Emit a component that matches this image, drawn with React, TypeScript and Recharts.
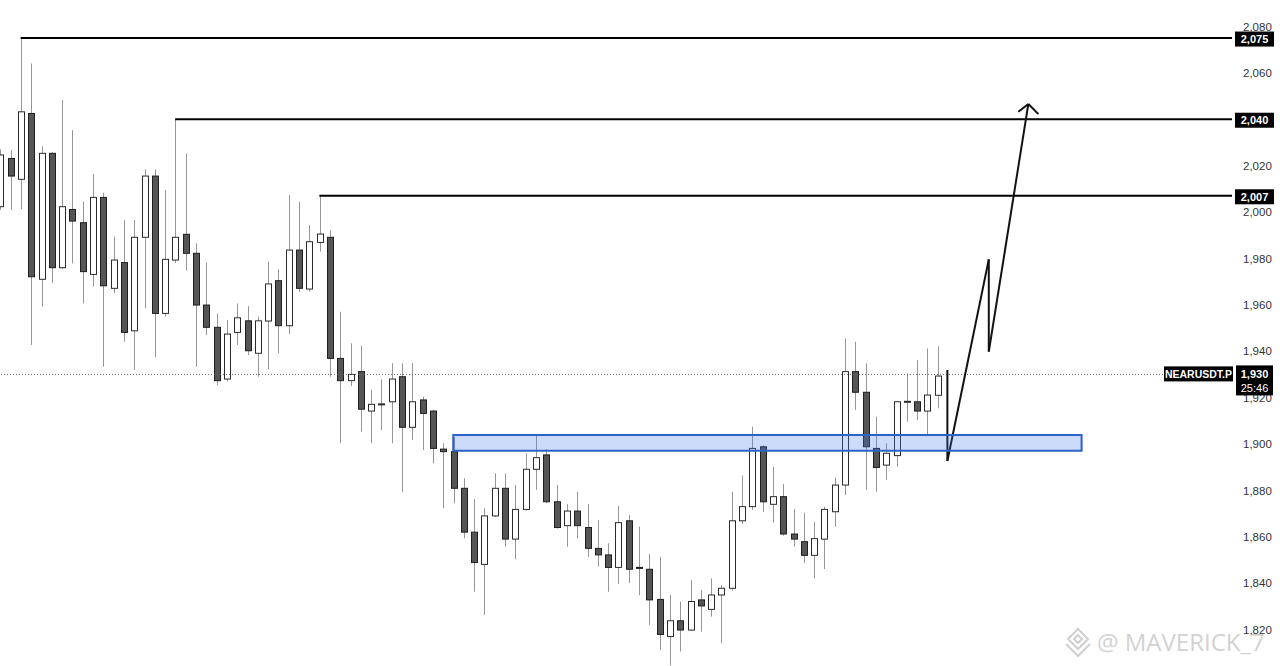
import {
  ComposedChart,
  Bar,
  XAxis,
  YAxis,
  ReferenceLine,
  ReferenceArea,
} from "recharts";

// NEARUSDT.P candles (one per slot, left to right)
const opens = [
  2002.3, 2023.1, 2014.1, 2042.5, 1971.0, 2025.3, 1976.0, 2001.1, 1995.4, 1973.1,
  2006.3, 1967.1, 1978.2, 1948.8, 1989.1, 2015.5, 1956.3, 1979.3, 1990.4, 1982.2,
  1959.9, 1950.3, 1928.0, 1948.1, 1953.1, 1939.1, 1953.0, 1970.4, 1951.0, 1983.6,
  1966.8, 1986.9, 1989.1, 1936.9, 1927.3, 1931.2, 1914.2, 1917.1, 1918.2, 1929.0,
  1907.2, 1919.0, 1914.2, 1897.8, 1896.7, 1880.9, 1862.0, 1848.1, 1869.0, 1880.9,
  1859.0, 1871.8, 1889.1, 1895.3, 1875.1, 1864.8, 1871.1, 1864.0, 1855.0, 1852.2,
  1846.8, 1866.9, 1846.8, 1846.0, 1833.0, 1817.0, 1823.8, 1819.8, 1832.8, 1828.7,
  1834.9, 1837.8, 1866.9, 1873.0, 1898.8, 1874.0, 1877.3, 1861.2, 1857.9, 1852.0,
  1859.0, 1870.8, 1882.3, 1931.2, 1922.3, 1898.1, 1890.9, 1895.0, 1918.2, 1918.2,
  1914.2, 1921.0,
];
const highs = [
  2027.0, 2026.7, 2075.0, 2064.0, 2028.4, 2025.8, 2048.3, 2035.3, 2004.5, 2016.4,
  2008.3, 1989.4, 1996.6, 1996.6, 2018.4, 2018.4, 2009.5, 2040.0, 2025.3, 1986.5,
  1978.2, 1956.3, 1953.4, 1960.6, 1959.5, 1954.9, 1978.6, 1975.3, 2007.3, 2004.4,
  1994.4, 2007.0, 1992.2, 1957.0, 1943.4, 1942.4, 1923.3, 1927.9, 1934.8, 1934.8,
  1934.8, 1920.4, 1914.8, 1900.3, 1903.0, 1885.2, 1876.2, 1872.3, 1887.4, 1887.4,
  1882.3, 1896.0, 1904.0, 1897.7, 1882.3, 1874.1, 1879.4, 1874.1, 1867.2, 1857.2,
  1873.3, 1869.4, 1864.4, 1852.6, 1851.4, 1834.9, 1832.1, 1841.4, 1837.1, 1842.1,
  1839.2, 1879.4, 1886.4, 1907.5, 1899.5, 1890.2, 1882.8, 1872.0, 1870.4, 1866.5,
  1873.0, 1885.5, 1945.5, 1944.1, 1934.8, 1911.8, 1900.3, 1918.6, 1930.5, 1936.2,
  1941.2, 1942.2,
];
const lows = [
  2001.0, 2000.9, 2001.3, 1942.7, 1959.2, 1969.3, 1975.5, 1977.9, 1960.6, 1967.8,
  1933.3, 1965.0, 1944.1, 1931.9, 1958.5, 1937.4, 1954.9, 1978.0, 1974.7, 1933.3,
  1947.0, 1925.4, 1927.0, 1942.7, 1938.4, 1929.0, 1932.2, 1939.1, 1947.4, 1965.5,
  1965.6, 1982.9, 1929.0, 1900.3, 1925.0, 1905.3, 1900.3, 1906.0, 1900.3, 1879.4,
  1901.7, 1897.4, 1891.7, 1872.3, 1874.4, 1859.3, 1836.3, 1826.3, 1868.5, 1855.7,
  1850.3, 1871.2, 1880.2, 1874.5, 1863.5, 1855.7, 1859.3, 1851.4, 1847.1, 1836.3,
  1839.7, 1840.0, 1834.9, 1822.0, 1811.2, 1804.5, 1810.5, 1819.3, 1819.1, 1825.6,
  1814.1, 1836.8, 1865.5, 1871.6, 1870.8, 1866.1, 1860.5, 1855.7, 1848.6, 1842.1,
  1846.1, 1864.4, 1878.0, 1914.7, 1880.2, 1879.4, 1884.5, 1890.2, 1909.6, 1910.3,
  1903.4, 1915.4,
];
const closes = [
  2024.6, 2015.5, 2043.2, 1972.1, 2025.3, 1976.0, 2002.3, 1996.1, 1974.3, 2006.3,
  1968.2, 1979.3, 1948.1, 1989.1, 2015.5, 1956.3, 1979.6, 1989.1, 1982.2, 1959.9,
  1950.3, 1927.3, 1947.4, 1954.4, 1940.2, 1953.1, 1969.0, 1951.0, 1983.6, 1967.1,
  1987.2, 1990.5, 1936.9, 1927.3, 1930.0, 1915.0, 1917.1, 1917.3, 1928.0, 1907.2,
  1918.2, 1913.2, 1898.1, 1896.7, 1880.9, 1862.0, 1848.9, 1869.0, 1880.9, 1859.0,
  1871.8, 1889.1, 1894.1, 1875.1, 1864.0, 1871.1, 1864.8, 1855.0, 1852.2, 1846.8,
  1866.1, 1846.0, 1846.6, 1832.8, 1817.9, 1823.8, 1819.8, 1832.1, 1830.2, 1834.9,
  1837.8, 1866.9, 1873.0, 1898.1, 1875.1, 1877.3, 1861.2, 1859.0, 1852.0, 1859.2,
  1871.8, 1882.3, 1931.2, 1922.3, 1898.8, 1889.9, 1896.0, 1918.2, 1918.4, 1914.2,
  1921.1, 1929.3,
];

const priceTicks = [
  1820, 1840, 1860, 1880, 1900, 1920, 1940, 1960, 1980, 2000, 2020, 2040, 2060, 2080,
];

// horizontal levels: start slot + price
const levelStarts = [2, 17, 31];
const levelPrices = [2075, 2040, 2007];

// demand zone
const zoneSlots = [44, 105];
const zonePrices = [1897.1, 1903.9];

const symbol = "NEARUSDT.P";
const lastPrice = 1930;
const countdown = "25:46";

// projected move, [slot, price]
const forecastPath = [
  [91.97, 1931.9],
  [91.97, 1892.7],
  [95.99, 1979.6],
  [95.99, 1939.8],
  [99.83, 2046.6],
];
const arrowWings = [
  [98.86, 2043.2],
  [100.81, 2042.2],
];

const X_MAX = 119.6;
const Y_DOMAIN: [number, number] = [1804.3, 2091.4];

const candles = opens.map((open, i) => ({
  slot: i,
  open,
  high: highs[i],
  low: lows[i],
  close: closes[i],
}));

const fmt = (v: number) => v.toLocaleString("en-US");

// plain ticks first, tags last so they paint over the plain labels
const axisTicks = [
  ...priceTicks.filter((t) => !levelPrices.includes(t)),
  ...levelPrices,
  lastPrice,
];

function Candle(props: any) {
  const { x, y, width, height, payload } = props;
  if (!payload) return null;
  const { open, close, high, low } = payload;
  const top = Math.min(y, y + height);
  const bottom = Math.max(y, y + height);
  const ppu = (bottom - top) / (high - low || 1);
  const yOf = (v: number) => top + (high - v) * ppu;
  const cx = Math.round(x + width / 2) + 0.5;
  const up = close >= open;
  const bodyTop = yOf(Math.max(open, close));
  const bodyH = Math.max(1, yOf(Math.min(open, close)) - bodyTop);
  return (
    <g>
      <line x1={cx} x2={cx} y1={top} y2={bottom} stroke="#969696" strokeWidth={1} />
      <rect
        x={cx - 3}
        y={bodyTop}
        width={6}
        height={bodyH}
        fill={up ? "#ffffff" : "#555555"}
        stroke={up ? "#2b2b2b" : "#1f1f1f"}
        strokeWidth={1}
      />
    </g>
  );
}

function PriceTick(props: any) {
  const { x, y, payload, index } = props;
  const v = payload.value;
  if (v === lastPrice && index === axisTicks.length - 1) {
    return (
      <g>
        <rect x={x - 79} y={y - 8} width={69} height={15} fill="#000" />
        <text x={x - 44.5} y={y} dy="0.36em" textAnchor="middle" fill="#fff" fontSize={10.5} fontWeight={700}>
          {symbol}
        </text>
        <rect x={x - 7} y={y - 9} width={37} height={30} fill="#000" />
        <text x={x + 11.5} y={y} dy="0.36em" textAnchor="middle" fill="#fff" fontSize={11} fontWeight={700}>
          {fmt(lastPrice)}
        </text>
        <text x={x + 11.5} y={y + 14} dy="0.36em" textAnchor="middle" fill="#fff" fontSize={11}>
          {countdown}
        </text>
      </g>
    );
  }
  if (levelPrices.includes(v)) {
    return (
      <g>
        <rect x={x - 8} y={y - 6.5} width={39} height={15} fill="#000" />
        <text x={x + 11.5} y={y + 1} dy="0.36em" textAnchor="middle" fill="#fff" fontSize={11} fontWeight={700}>
          {fmt(v)}
        </text>
      </g>
    );
  }
  return (
    <text x={x} y={y} dy="0.36em" textAnchor="start" fill="#333" fontSize={11.5}>
      {fmt(v)}
    </text>
  );
}

export default function App() {
  return (
    <div
      style={{
        position: "absolute",
        left: 0,
        top: 0,
        width: 1280,
        height: 666,
        background: "#fff",
        overflow: "hidden",
        fontFamily: "'Liberation Sans', Arial, sans-serif",
      }}
    >
      <ComposedChart
        width={1280}
        height={666}
        data={candles}
        margin={{ top: 0, right: 0, left: 0, bottom: 0 }}
      >
        <XAxis dataKey="slot" type="number" domain={[0, X_MAX]} allowDataOverflow hide />
        <YAxis
          orientation="right"
          type="number"
          domain={Y_DOMAIN}
          allowDataOverflow
          ticks={axisTicks}
          width={48}
          axisLine={false}
          tickLine={false}
          tickMargin={5}
          interval={0}
          tick={PriceTick}
        />
        <ReferenceLine y={lastPrice} stroke="#666" strokeDasharray="1 2" strokeWidth={1} />
        <Bar
          dataKey={(d: any) => [d.low, d.high]}
          barSize={7}
          shape={Candle}
          isAnimationActive={false}
        />
        {levelPrices.map((p, k) => (
          <ReferenceLine
            key={p}
            segment={[
              { x: levelStarts[k], y: p },
              { x: X_MAX, y: p },
            ]}
            stroke="#000"
            strokeWidth={2}
          />
        ))}
        <ReferenceArea
          x1={zoneSlots[0]}
          x2={zoneSlots[1]}
          y1={zonePrices[0]}
          y2={zonePrices[1]}
          fill="#3f7be8"
          fillOpacity={0.27}
          stroke="#2c63c9"
          strokeWidth={2}
          zIndex={500}
        />
        {forecastPath.slice(1).map((pt, k) => (
          <ReferenceLine
            key={"f" + k}
            segment={[
              { x: forecastPath[k][0], y: forecastPath[k][1] },
              { x: pt[0], y: pt[1] },
            ]}
            stroke="#111"
            strokeWidth={2}
          />
        ))}
        {arrowWings.map((w, k) => (
          <ReferenceLine
            key={"w" + k}
            segment={[
              { x: w[0], y: w[1] },
              { x: forecastPath[4][0], y: forecastPath[4][1] },
            ]}
            stroke="#111"
            strokeWidth={2}
          />
        ))}
      </ComposedChart>
      <svg
        width={240}
        height={46}
        style={{ position: "absolute", left: 1040, top: 616, pointerEvents: "none" }}
      >
        <g fill="none" stroke="#cfcfcf" strokeWidth={2}>
          <polygon points="38,13 48,23 38,33 28,23" />
          <polygon points="38,19 42,23 38,27 34,23" />
          <polyline points="26,28 38,40 50,28" />
        </g>
        <text
          x={57}
          y={35}
          fontSize={24}
          fill="#d2d2d2"
          fontFamily="'Open Sans', sans-serif"
        >
          @ MAVERICK_7
        </text>
      </svg>
    </div>
  );
}
